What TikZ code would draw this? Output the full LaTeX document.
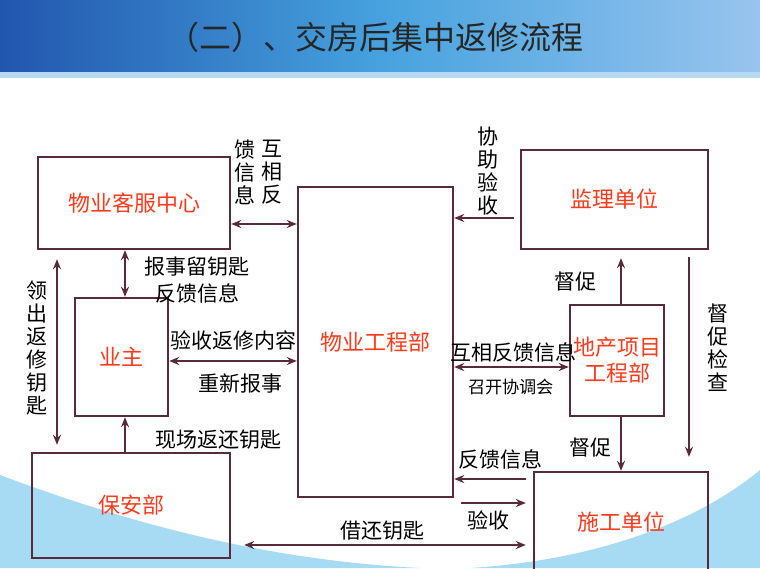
\documentclass[tikz,border=0pt]{standalone}
\usepackage{fontspec}
\setmainfont{Noto Sans CJK SC}
\usetikzlibrary{arrows.meta,calc}
\definecolor{lineC}{HTML}{5A2A3C}
\definecolor{nameC}{HTML}{FF3A1A}
\definecolor{barA}{HTML}{2256AE}
\definecolor{barB}{HTML}{46A2DE}
\definecolor{barC}{HTML}{98C4EE}
\definecolor{waveC}{HTML}{6CC2EA}
\tikzset{unit/.style={rectangle, draw=lineC, line width=1.2pt, text=nameC, font=\fontsize{11}{13}\selectfont, align=center, inner sep=0pt}}
\tikzset{link/.style={draw=lineC, line width=1.1pt, -{Stealth[length=5pt,width=4pt]}}}
\tikzset{both/.style={link, {Stealth[length=5pt,width=4pt]}-{Stealth[length=5pt,width=4pt]}}}
\tikzset{tag/.style={font=\fontsize{10.5}{12}\selectfont, inner sep=0pt, align=center}}
\tikzset{vtag/.style={tag, font=\fontsize{10.5}{11.5}\selectfont}}

\begin{document}
\begin{tikzpicture}[x=0.5pt, y=-0.5pt]

    \useasboundingbox (0,0) rectangle (760,568);
    % background
    \fill[waveC!60] (0,475) .. controls (120,520) and (260,560) .. (420,568) -- (0,568) -- cycle;
    \fill[waveC!60] (760,470) .. controls (700,520) and (600,560) .. (470,568) -- (760,568) -- cycle;
    \shade[left color=barA, right color=barC, middle color=barB] (0,0) rectangle (760,72);
    \fill[barB!40] (0,72) rectangle (760,78);
    \node[font=\fontsize{16}{18}\selectfont, text=black!85] (title) at (375,37) {（二）、交房后集中返修流程};

    % units
    \node[unit, fill=white, minimum width=96pt, minimum height=46pt] (kefu) at (134,203) {物业客服中心};
    \node[unit, fill=white, minimum width=46.5pt, minimum height=59pt] (yezhu) at (121.5,357) {业主};
    \node[unit, minimum width=99pt, minimum height=52.5pt] (baoan) at (131,505.5) {保安部};
    \node[unit, fill=white, minimum width=77.5pt, minimum height=155pt] (gongcheng) at (375.5,342) {物业工程部};
    \node[unit, fill=white, minimum width=93.5pt, minimum height=49.5pt] (jianli) at (614.5,199.5) {监理单位};
    \node[unit, fill=white, minimum width=47pt, minimum height=55.5pt] (dichan) at (617,360.5) {地产项目\\工程部};
    \node[unit, minimum width=87pt, minimum height=50pt] (shigong) at (621,522) {施工单位};

    % connectors
    \draw[both] (kefu.east |- 0,224) -- (gongcheng.west |- 0,224);
    \draw[both] (kefu.south -| 125,0) -- (yezhu.north -| 125,0);
    \draw[both] ($(kefu.south -| 57,0)+(0,9)$) -- ($(baoan.north -| 57,0)+(0,-7)$);
    \draw[both] (yezhu.east |- 0,361) -- (gongcheng.west |- 0,361);
    \draw[link] (baoan.north -| 125,0) -- (yezhu.south -| 125,0);
    \draw[both] ($(baoan.east |- 0,545)+(13,0)$) -- ($(shigong.west |- 0,545)+(-7,0)$);
    \draw[link] ($(jianli.west |- 0,218)+(-6,0)$) -- (gongcheng.east |- 0,218);
    \draw[link] (dichan.north -| 621,0) -- ($(jianli.south -| 621,0)+(0,8)$);
    \draw[link] (dichan.south -| 621,0) -- (shigong.north -| 621,0);
    \draw[link] ($(jianli.south -| 689,0)+(0,7)$) -- ($(shigong.north -| 689,0)+(0,-14)$);
    \draw[both] (gongcheng.east |- 0,367) -- (dichan.west |- 0,367);
    \draw[link] ($(shigong.west |- 0,479)+(-7,0)$) -- (gongcheng.east |- 0,479);
    \draw[link] ($(gongcheng.east |- 0,503)+(7,0)$) -- ($(shigong.west |- 0,503)+(-7,0)$);

    % labels
    \node[vtag] (l1) at (272,172) {互\\相\\反};
    \node[vtag] (l2) at (245,172) {馈\\信\\息};
    \node[tag] (l3) at (197,267) {报事留钥匙};
    \node[tag] (l4) at (197,293) {反馈信息};
    \node[vtag] (l5) at (37,348) {领\\出\\返\\修\\钥\\匙};
    \node[tag] (l6) at (233,340) {验收返修内容};
    \node[tag] (l7) at (240,384) {重新报事};
    \node[tag] (l8) at (218,440) {现场返还钥匙};
    \node[tag] (l9) at (382,531) {借还钥匙};
    \node[vtag] (l10) at (488,171) {协\\助\\验\\收};
    \node[tag] (l11) at (575,282) {督促};
    \node[tag] (l12) at (590,448) {督促};
    \node[vtag] (l13) at (718,348) {督\\促\\检\\查};
    \node[tag] (l14) at (513,352) {互相反馈信息};
    \node[tag, font=\fontsize{8.6}{10}\selectfont] (l15) at (511,387) {召开协调会};
    \node[tag] (l16) at (500,459) {反馈信息};
    \node[tag] (l17) at (488,520) {验收};

  \end{tikzpicture}
\end{document}
